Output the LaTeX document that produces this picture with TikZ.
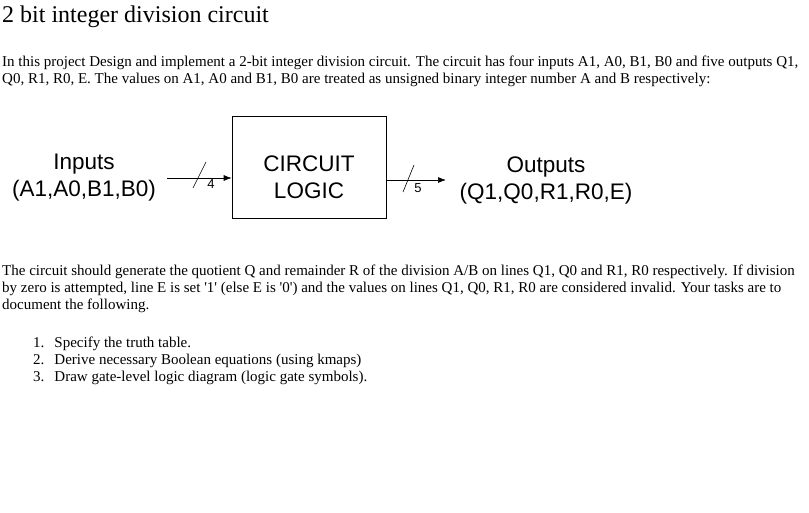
\documentclass[tikz,border=0pt]{standalone}
\usepackage{fontspec}
\setmainfont{Liberation Serif}
\newfontfamily\arial{Liberation Sans}
\usetikzlibrary{arrows.meta}
\tikzset{body/.style={anchor=base west,inner sep=0pt,font=\fontsize{15}{18}\selectfont},
 big/.style={font=\arial\fontsize{22.5}{27}\selectfont,align=center},
 arr/.style={-{Latex[length=8pt,width=6pt]},line width=0.7pt},
 bus/.style={line width=0.6pt},
 num/.style={font=\arial\fontsize{13}{15}\selectfont,inner sep=0pt}}
\begin{document}
\begin{tikzpicture}[x=1pt,y=-1pt]
\useasboundingbox (0,0) rectangle (809,512);
\node[anchor=base west,inner sep=0pt,font=\fontsize{24}{28}\selectfont] (title) at (2,22) {2 bit integer division circuit};
\node[body] (p1a) at (2,66) {In this project Design and implement a 2-bit integer division circuit. The circuit has four inputs A1, A0, B1, B0 and five outputs Q1,};
\node[body] (p1b) at (2,83) {Q0, R1, R0, E. The values on A1, A0 and B1, B0 are treated as unsigned binary integer number A and B respectively:};
\node[draw,line width=0.7pt,minimum width=154,minimum height=102,inner sep=0pt] (box) at (309,167) {};
\node[big] (logic) at (309,177) {CIRCUIT\\LOGIC};
\node[big] (in) at (84,178) {Inputs\\(A1,A0,B1,B0)};
\node[big] (out) at (546,180) {Outputs\\(Q1,Q0,R1,R0,E)};
\coordinate (i0) at (167,178);
\draw[arr] (i0) -- (box.west |- i0);
\coordinate (o1) at (446,180);
\draw[arr] (box.east |- o1) -- (o1);
\draw[bus] (193,188) -- (206,162);
\node[num] (n4) at (211,184) {4};
\draw[bus] (403,192) -- (414,165);
\node[num] (n5) at (418,188) {5};
\node[body] (p2a) at (2,275) {The circuit should generate the quotient Q and remainder R of the division A/B on lines Q1, Q0 and R1, R0 respectively. If division};
\node[body] (p2b) at (2,292) {by zero is attempted, line E is set \textquotesingle1\textquotesingle\ (else E is \textquotesingle0\textquotesingle) and the values on lines Q1, Q0, R1, R0 are considered invalid. Your tasks are to};
\node[body] (p2c) at (2,309) {document the following.};
\node[body] (l1) at (33,347) {1.\hspace{10pt}Specify the truth table.};
\node[body] (l2) at (33,364) {2.\hspace{10pt}Derive necessary Boolean equations (using kmaps)};
\node[body] (l3) at (33,381) {3.\hspace{10pt}Draw gate-level logic diagram (logic gate symbols).};
\end{tikzpicture}
\end{document}
